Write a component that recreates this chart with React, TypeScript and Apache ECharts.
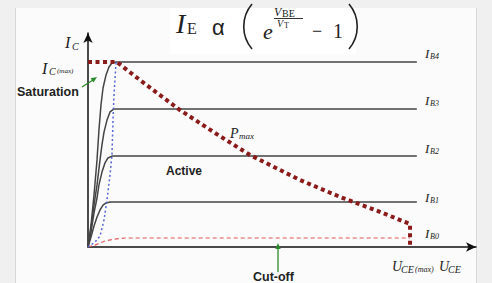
import React, { useEffect, useRef } from "react";
import * as echarts from "echarts";

// Base-current levels (mA) of the output characteristics
const ibNames = ["B4", "B3", "B2", "B1", "B0"];
const ibLevels = [8.64, 6.45, 4.25, 2.1, 0.42];

// Output curves Ic(Uce) for each base current
const ib4Curve = [[0, 0], [0.31, 1.03], [0.62, 2.43], [0.93, 4.07], [1.13, 5.47], [1.34, 6.64], [1.55, 7.43], [1.86, 8.04], [2.16, 8.41], [2.47, 8.6], [2.89, 8.64], [33.9, 8.64]];
const ib3Curve = [[0, 0], [0.31, 0.89], [0.62, 1.96], [0.93, 2.9], [1.24, 4.07], [1.44, 4.77], [1.65, 5.37], [1.96, 5.93], [2.27, 6.31], [2.68, 6.45], [33.9, 6.45]];
const ib2Curve = [[0, 0], [0.31, 0.7], [0.62, 1.59], [0.93, 2.29], [1.13, 2.9], [1.44, 3.5], [1.75, 3.93], [2.06, 4.16], [2.47, 4.25], [33.9, 4.25]];
const ib1Curve = [[0, 0], [0.31, 0.47], [0.62, 0.98], [0.93, 1.4], [1.24, 1.73], [1.55, 1.96], [1.86, 2.06], [2.27, 2.1], [33.9, 2.1]];
const cutoffCurve = [[0, 0], [0.72, 0.09], [1.75, 0.28], [2.78, 0.37], [3.81, 0.42], [33.2, 0.42]];
const saturationCurve = [[0, 0], [0.72, 0.23], [1.24, 0.51], [1.65, 1.26], [1.96, 2.2], [2.27, 3.36], [2.47, 4.3], [2.58, 5.93], [2.68, 7.1], [2.89, 8.64]];
const pmaxCurve = [[0, 8.64], [2.99, 8.64], [5.36, 7.8], [9.48, 6.4], [13.09, 5.33], [16.7, 4.3], [21.86, 3.13], [25.98, 2.34], [30.1, 1.64], [32.68, 1.17], [33.2, 1.07], [33.2, 0]];

const SERIF = '"Liberation Serif", "DejaVu Serif", serif';
const SANS = '"Liberation Sans", Arial, sans-serif';

type TOpts = { italic?: boolean; bold?: boolean; family?: string; fill?: string; align?: string };
const T = (x: number, y: number, text: string, size: number, o: TOpts = {}) => ({
  type: "text",
  x,
  y,
  silent: true,
  z: 10,
  style: {
    text,
    fill: o.fill || "#222",
    fontSize: size,
    fontFamily: o.family || SERIF,
    fontStyle: o.italic ? "italic" : "normal",
    fontWeight: o.bold ? "bold" : "normal",
    textAlign: o.align || "left",
    textVerticalAlign: "middle",
  },
});

const GREEN = "#2b8a2b";

export default function App() {
  const ref = useRef<HTMLDivElement>(null);
  useEffect(() => {
    if (!ref.current) return;
    const chart = echarts.init(ref.current, undefined, { renderer: "svg" });
    const curveStyle = { color: "#444", width: 1.5 };
    const ibLabelY = [53, 100, 148, 197, 233];
    const graphics: any[] = [
      // axis titles
      T(65, 42, "I", 16, { italic: true }),
      T(72, 46, "C", 10, { italic: true }),
      T(42, 68, "I", 16, { italic: true }),
      T(49, 71, "C", 10, { italic: true }),
      T(57, 71, "(max)", 7, { italic: true }),
      T(17, 92, "Saturation", 12.5, { bold: true, family: SANS }),
      T(166, 171, "Active", 12, { bold: true, family: SANS }),
      T(230, 133, "P", 14, { italic: true }),
      T(239, 136, "max", 9, { italic: true }),
      T(253, 277, "Cut-off", 12.5, { bold: true, family: SANS }),
      T(392, 266, "U", 14, { italic: true }),
      T(401, 269, "CE", 10, { italic: true }),
      T(415, 269, "(max)", 8, { italic: true }),
      T(439, 266, "U", 14, { italic: true }),
      T(448, 269, "CE", 10, { italic: true }),
      // green arrows
      { type: "line", silent: true, z: 10, shape: { x1: 82, y1: 87, x2: 93, y2: 80 }, style: { stroke: GREEN, lineWidth: 1.3 } },
      { type: "polygon", silent: true, z: 10, shape: { points: [[97, 77], [93.4, 82.4], [90.6, 78.2]] }, style: { fill: GREEN } },
      { type: "line", silent: true, z: 10, shape: { x1: 278, y1: 272, x2: 278, y2: 248 }, style: { stroke: GREEN, lineWidth: 1.3 } },
      { type: "polygon", silent: true, z: 10, shape: { points: [[278, 243], [275.3, 249], [280.7, 249]] }, style: { fill: GREEN } },
      // formula
      T(176, 23, "I", 28, { italic: true }),
      T(187, 28, "E", 16),
      T(212, 27, "α", 22, { family: SANS }),
      { type: "bezierCurve", silent: true, z: 10, shape: { x1: 252, y1: 4, x2: 252, y2: 49, cpx1: 241, cpy1: 17, cpx2: 241, cpy2: 36 }, style: { stroke: "#222", lineWidth: 1.6, fill: null } },
      { type: "bezierCurve", silent: true, z: 10, shape: { x1: 349, y1: 4, x2: 349, y2: 49, cpx1: 360, cpy1: 17, cpx2: 360, cpy2: 36 }, style: { stroke: "#222", lineWidth: 1.6, fill: null } },
      T(263, 31, "e", 22, { italic: true }),
      T(274, 12, "V", 12, { italic: true }),
      T(282, 13, "BE", 10),
      { type: "line", silent: true, z: 10, shape: { x1: 274, y1: 18.5, x2: 303, y2: 18.5 }, style: { stroke: "#333", lineWidth: 1 } },
      T(277, 23, "V", 10, { italic: true }),
      T(284, 25, "T", 8),
      T(312, 31, "−", 18),
      T(333, 31, "1", 20),
    ];
    ibNames.forEach((n, i) => {
      graphics.push(T(425, ibLabelY[i], "I", 13, { italic: true }));
      graphics.push(T(430, ibLabelY[i] + 3, n, 8, { italic: true }));
    });

    const mk = (data: number[][], lineStyle: any, z: number) => ({
      type: "line",
      data,
      showSymbol: false,
      symbol: "none",
      silent: true,
      z,
      lineStyle,
    });

    chart.setOption({
      animation: false,
      grid: { left: 88, top: 33, width: 388, height: 214 },
      xAxis: {
        type: "value",
        min: 0,
        max: 40,
        axisLabel: { show: false },
        axisTick: { show: false },
        splitLine: { show: false },
        axisLine: { lineStyle: { color: "#111", width: 1.5 }, symbol: ["none", "arrow"], symbolSize: [7, 10] },
      },
      yAxis: {
        type: "value",
        min: 0,
        max: 10,
        axisLabel: { show: false },
        axisTick: { show: false },
        splitLine: { show: false },
        axisLine: { lineStyle: { color: "#111", width: 1.5 }, symbol: ["none", "arrow"], symbolSize: [7, 10] },
      },
      series: [
        mk(ib4Curve, curveStyle, 2),
        mk(ib3Curve, curveStyle, 2),
        mk(ib2Curve, curveStyle, 2),
        mk(ib1Curve, curveStyle, 2),
        mk(cutoffCurve, { color: "#e05858", width: 1.2, type: [4, 3] }, 3),
        mk(saturationCurve, { color: "#5566d8", width: 1.5, type: [2, 2.5] }, 4),
        mk(pmaxCurve, { color: "#8b1a1a", width: 4, type: [4, 3.5], cap: "butt" }, 5),
      ],
      graphic: { elements: graphics },
    });
    return () => chart.dispose();
  }, []);

  return (
    <div style={{ position: "fixed", left: 0, top: 0, width: 492, height: 283, background: "#eff0ef", overflow: "hidden" }}>
      <div style={{ position: "absolute", left: 15, top: 8, width: 460, height: 275, background: "#fbfbfb", borderLeft: "1px solid #d8d8d8", borderRight: "1px solid #d8d8d8" }} />
      <div style={{ position: "absolute", left: 170, top: 8, width: 186, height: 46, background: "#ffffff" }} />
      <div ref={ref} style={{ position: "absolute", left: 0, top: 0, width: 492, height: 283 }} />
    </div>
  );
}
